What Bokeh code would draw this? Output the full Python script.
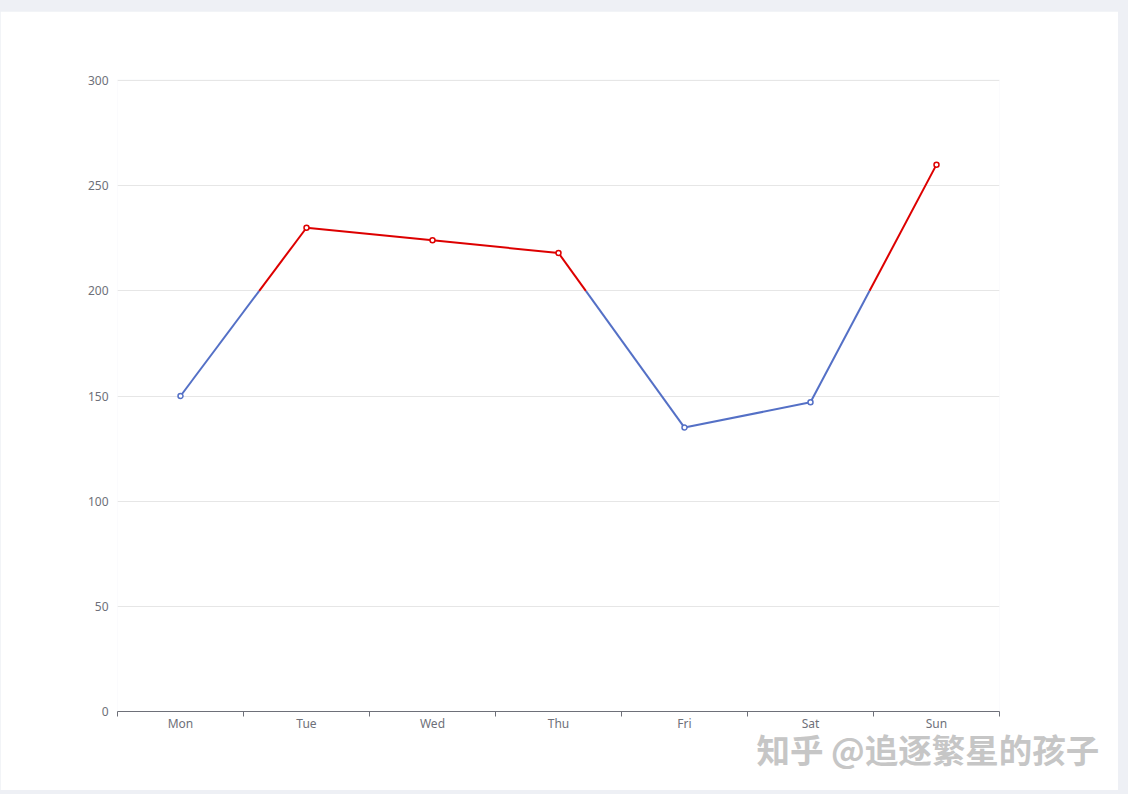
import numpy as np
from bokeh.plotting import figure
from bokeh.models import Range1d, FixedTicker, Title, ColumnDataSource
from bokeh.embed import file_html
from bokeh.resources import INLINE

days = ["Mon", "Tue", "Wed", "Thu", "Fri", "Sat", "Sun"]
values = [150, 230, 224, 218, 135, 147, 260]
threshold = 200
y_ticks = [0, 50, 100, 150, 200, 250, 300]
color_high = "#dd0000"
color_low = "#5470c6"
watermark = "知乎 @追逐繁星的孩子"

x = np.arange(len(days), dtype=float)
y = np.array(values, dtype=float)

y_top = 300 * 632 / 631  # tiny headroom so the 300 grid line is not clipped

p = figure(width=1118, height=779, output_backend="svg", toolbar_location=None,
           x_range=Range1d(-0.5, len(days) - 0.5), y_range=Range1d(0, y_top),
           min_border_left=117, min_border_right=119, min_border_top=68, min_border_bottom=79)
p.margin = (11, 0, 0, 0)
p.outline_line_color = None
p.background_fill_color = "#ffffff"
p.border_fill_color = "#ffffff"

# split the line at the threshold into coloured pieces
segs_x = {"hi": [], "lo": []}
segs_y = {"hi": [], "lo": []}
for i in range(len(x) - 1):
    x0, y0, x1, y1 = x[i], y[i], x[i + 1], y[i + 1]
    if (y0 - threshold) * (y1 - threshold) < 0:
        t = (threshold - y0) / (y1 - y0)
        xc = x0 + t * (x1 - x0)
        k0 = "hi" if y0 > threshold else "lo"
        k1 = "hi" if y1 > threshold else "lo"
        segs_x[k0].append([x0, xc]); segs_y[k0].append([y0, threshold])
        segs_x[k1].append([xc, x1]); segs_y[k1].append([threshold, y1])
    else:
        k = "hi" if max(y0, y1) > threshold else "lo"
        segs_x[k].append([x0, x1]); segs_y[k].append([y0, y1])

p.multi_line(segs_x["lo"], segs_y["lo"], line_color=color_low, line_width=2, line_join="round")
p.multi_line(segs_x["hi"], segs_y["hi"], line_color=color_high, line_width=2, line_join="round")

pt_colors = [color_high if v > threshold else color_low for v in values]
src = ColumnDataSource(dict(x=x, y=y, c=pt_colors))
p.scatter("x", "y", source=src, size=5, fill_color="white", line_color="c", line_width=1.5)

# axes
font = "Noto Sans"
p.xaxis.ticker = FixedTicker(ticks=list(x), minor_ticks=list(np.arange(-0.5, len(days), 1.0)))
p.xaxis.major_label_overrides = {float(i): d for i, d in enumerate(days)}
p.xaxis.major_label_overrides.update({int(i): d for i, d in enumerate(days)})
p.xaxis.major_tick_line_color = None
p.xaxis.major_tick_out = 0
p.xaxis.major_tick_in = 0
p.xaxis.minor_tick_line_color = "#6e7079"
p.xaxis.minor_tick_out = 5
p.xaxis.minor_tick_in = 0
p.xaxis.axis_line_color = "#6e7079"
p.xaxis.major_label_text_color = "#6e7079"
p.xaxis.major_label_text_font = font
p.xaxis.major_label_text_font_size = "12px"
p.xaxis.major_label_standoff = -2

p.yaxis.ticker = FixedTicker(ticks=y_ticks)
p.yaxis.axis_line_color = None
p.yaxis.major_tick_line_color = None
p.yaxis.major_tick_out = 0
p.yaxis.major_tick_in = 0
p.yaxis.minor_tick_line_color = None
p.yaxis.major_label_text_color = "#6e7079"
p.yaxis.major_label_text_font = font
p.yaxis.major_label_text_font_size = "12px"
p.yaxis.major_label_standoff = 9

p.xgrid.grid_line_color = None
p.ygrid.grid_line_color = "#e6e6e6"
p.ygrid.ticker = FixedTicker(ticks=y_ticks[1:])

wm = Title(text=watermark, align="left", offset=639, standoff=-26,
           text_font="Noto Sans CJK SC", text_font_size="33.5px", text_color="#c6c6c6",
           text_font_style="bold")
p.add_layout(wm, "below")

html = file_html(p, INLINE)
html = html.replace("</head>", "<style>html, body { background: #eef0f5 !important; }</style></head>", 1)
open("out.html", "w").write(html)
